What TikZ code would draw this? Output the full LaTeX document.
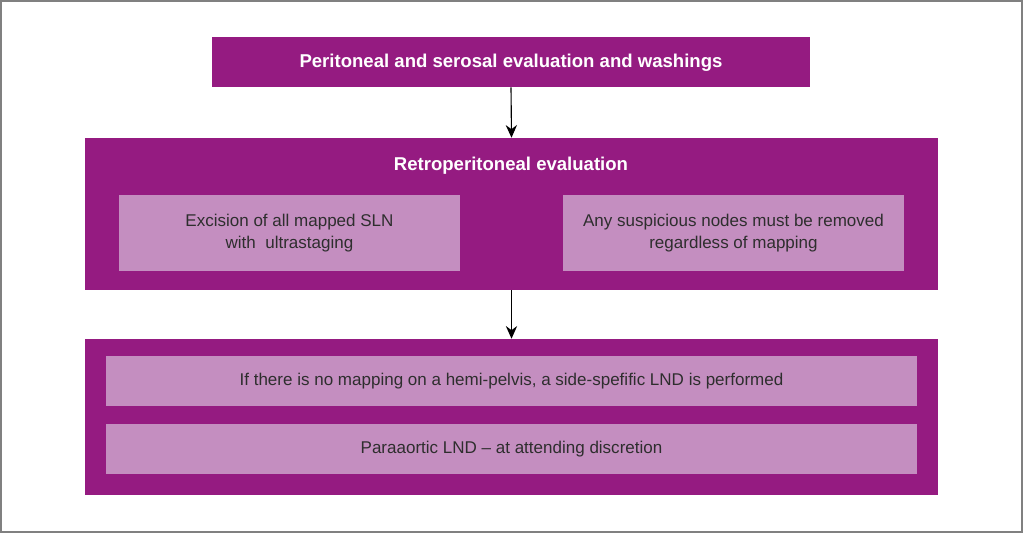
\documentclass[tikz,border=0pt]{standalone}
\usepackage{fontspec}
\setmainfont{Liberation Sans}
\usepackage{xcolor}
\usetikzlibrary{arrows.meta,positioning}
\definecolor{darkplum}{HTML}{951B81}
\definecolor{lightplum}{HTML}{C48EC0}
\definecolor{textgray}{HTML}{2E2E2E}

\begin{document}
\begin{tikzpicture}[x=0.025cm, y=-0.025cm,
                    outer/.style={fill=darkplum, draw=none, inner sep=0pt},
                    inner/.style={fill=lightplum, draw=none, inner sep=0pt, align=center,
                                  text=textgray, font=\fontsize{12.1}{16}\selectfont},
                    title/.style={text=white, font=\fontsize{13.2}{16}\selectfont\bfseries},
                    myarrow/.style={thick, black, -{Stealth[length=9pt,width=8pt]}},
                   ]

% frame
\draw[gray, thick] (1,1) rectangle (1022,532);
\useasboundingbox (0,0) rectangle (1024,535);

% top
\node[outer, minimum width=598*0.025cm, minimum height=50*0.025cm] (wash) at (511,62) {};
\node[title] at (511,63) {Peritoneal and serosal evaluation and washings};

% middle
\node[outer, minimum width=853*0.025cm, minimum height=152*0.025cm] (retro) at (511.5,214) {};
\node[title] (retrotitle) at (511,166) {Retroperitoneal evaluation};
\node[inner, minimum width=341*0.025cm, minimum height=76*0.025cm] (sln) at (289.5,233) {Excision of all mapped SLN\\with\ \ ultrastaging};
\node[inner, minimum width=341*0.025cm, minimum height=76*0.025cm] (susp) at (733.5,233) {Any suspicious nodes must be removed\\regardless of mapping};

% bottom
\node[outer, minimum width=853*0.025cm, minimum height=156*0.025cm] (lnd) at (511.5,417) {};
\node[inner, minimum width=811*0.025cm, minimum height=50*0.025cm] (hemi) at (511.5,381) {If there is no mapping on a hemi-pelvis, a side-spefific LND is performed};
\node[inner, minimum width=811*0.025cm, minimum height=50*0.025cm] (paa) at (511.5,449) {Paraaortic LND -- at attending discretion};

\draw[myarrow] (wash.south) -- (retro.north);
\draw[myarrow] (retro.south) -- (lnd.north);

\end{tikzpicture}
\end{document}
